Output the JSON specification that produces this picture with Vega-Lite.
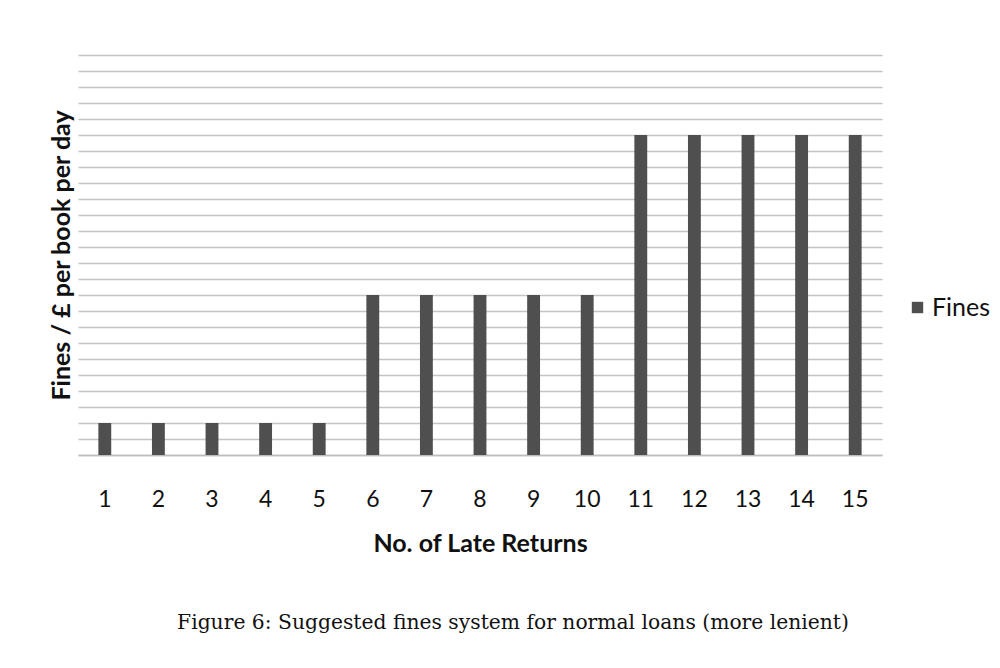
{
  "$schema": "https://vega.github.io/schema/vega-lite/v6.json",
  "width": 804,
  "height": 400,
  "autosize": {"type": "none"},
  "padding": {"left": 78, "top": 55, "right": 118, "bottom": 213},
  "background": "white",
  "config": {"view": {"stroke": null}, "font": "Lato"},
  "title": {
    "text": "Figure 6: Suggested fines system for normal loans (more lenient)",
    "orient": "bottom",
    "anchor": "middle",
    "font": "DejaVu Serif",
    "fontSize": 20.3,
    "fontWeight": "normal",
    "color": "#111111",
    "offset": 57,
    "dx": 33
  },
  "data": {
    "values": [
      {"returns": 1, "fine": 0.1, "series": "Fines"},
      {"returns": 2, "fine": 0.1, "series": "Fines"},
      {"returns": 3, "fine": 0.1, "series": "Fines"},
      {"returns": 4, "fine": 0.1, "series": "Fines"},
      {"returns": 5, "fine": 0.1, "series": "Fines"},
      {"returns": 6, "fine": 0.5, "series": "Fines"},
      {"returns": 7, "fine": 0.5, "series": "Fines"},
      {"returns": 8, "fine": 0.5, "series": "Fines"},
      {"returns": 9, "fine": 0.5, "series": "Fines"},
      {"returns": 10, "fine": 0.5, "series": "Fines"},
      {"returns": 11, "fine": 1.0, "series": "Fines"},
      {"returns": 12, "fine": 1.0, "series": "Fines"},
      {"returns": 13, "fine": 1.0, "series": "Fines"},
      {"returns": 14, "fine": 1.0, "series": "Fines"},
      {"returns": 15, "fine": 1.0, "series": "Fines"}
    ]
  },
  "mark": {"type": "bar"},
  "encoding": {
    "x": {
      "field": "returns",
      "type": "ordinal",
      "scale": {"paddingInner": 0.76, "paddingOuter": 0.38},
      "axis": {
        "title": "No. of Late Returns",
        "titleFont": "Lato",
        "titleFontSize": 25,
        "titleFontWeight": "bold",
        "titleColor": "#111111",
        "titlePadding": 20,
        "labelAngle": 0,
        "labelFont": "Lato",
        "labelFontSize": 23,
        "labelColor": "#111111",
        "labelPadding": 33,
        "ticks": false,
        "domain": true,
        "domainColor": "#bdbdbd",
        "domainWidth": 1.5,
        "grid": false
      }
    },
    "y": {
      "field": "fine",
      "type": "quantitative",
      "scale": {"domain": [0, 1.25], "nice": false},
      "axis": {
        "title": "Fines / £ per book per day",
        "titleFont": "Lato",
        "titleFontSize": 25,
        "titleFontWeight": "bold",
        "titleColor": "#111111",
        "titlePadding": 4,
        "labels": false,
        "ticks": false,
        "domain": false,
        "grid": true,
        "gridColor": "#c4c4c4",
        "gridWidth": 1.5,
        "values": [0, 0.05, 0.1, 0.15, 0.2, 0.25, 0.3, 0.35, 0.4, 0.45, 0.5, 0.55, 0.6, 0.65, 0.7, 0.75, 0.8, 0.85, 0.9, 0.95, 1.0, 1.05, 1.1, 1.15, 1.2, 1.25]
      }
    },
    "color": {
      "field": "series",
      "type": "nominal",
      "scale": {"range": ["#4f4f4f"]},
      "legend": {
        "title": null,
        "orient": "none",
        "legendX": 827,
        "legendY": 240,
        "symbolType": "square",
        "symbolSize": 130,
        "labelFont": "Lato",
        "labelFontSize": 25,
        "labelColor": "#111111",
        "labelOffset": 2
      }
    }
  }
}
